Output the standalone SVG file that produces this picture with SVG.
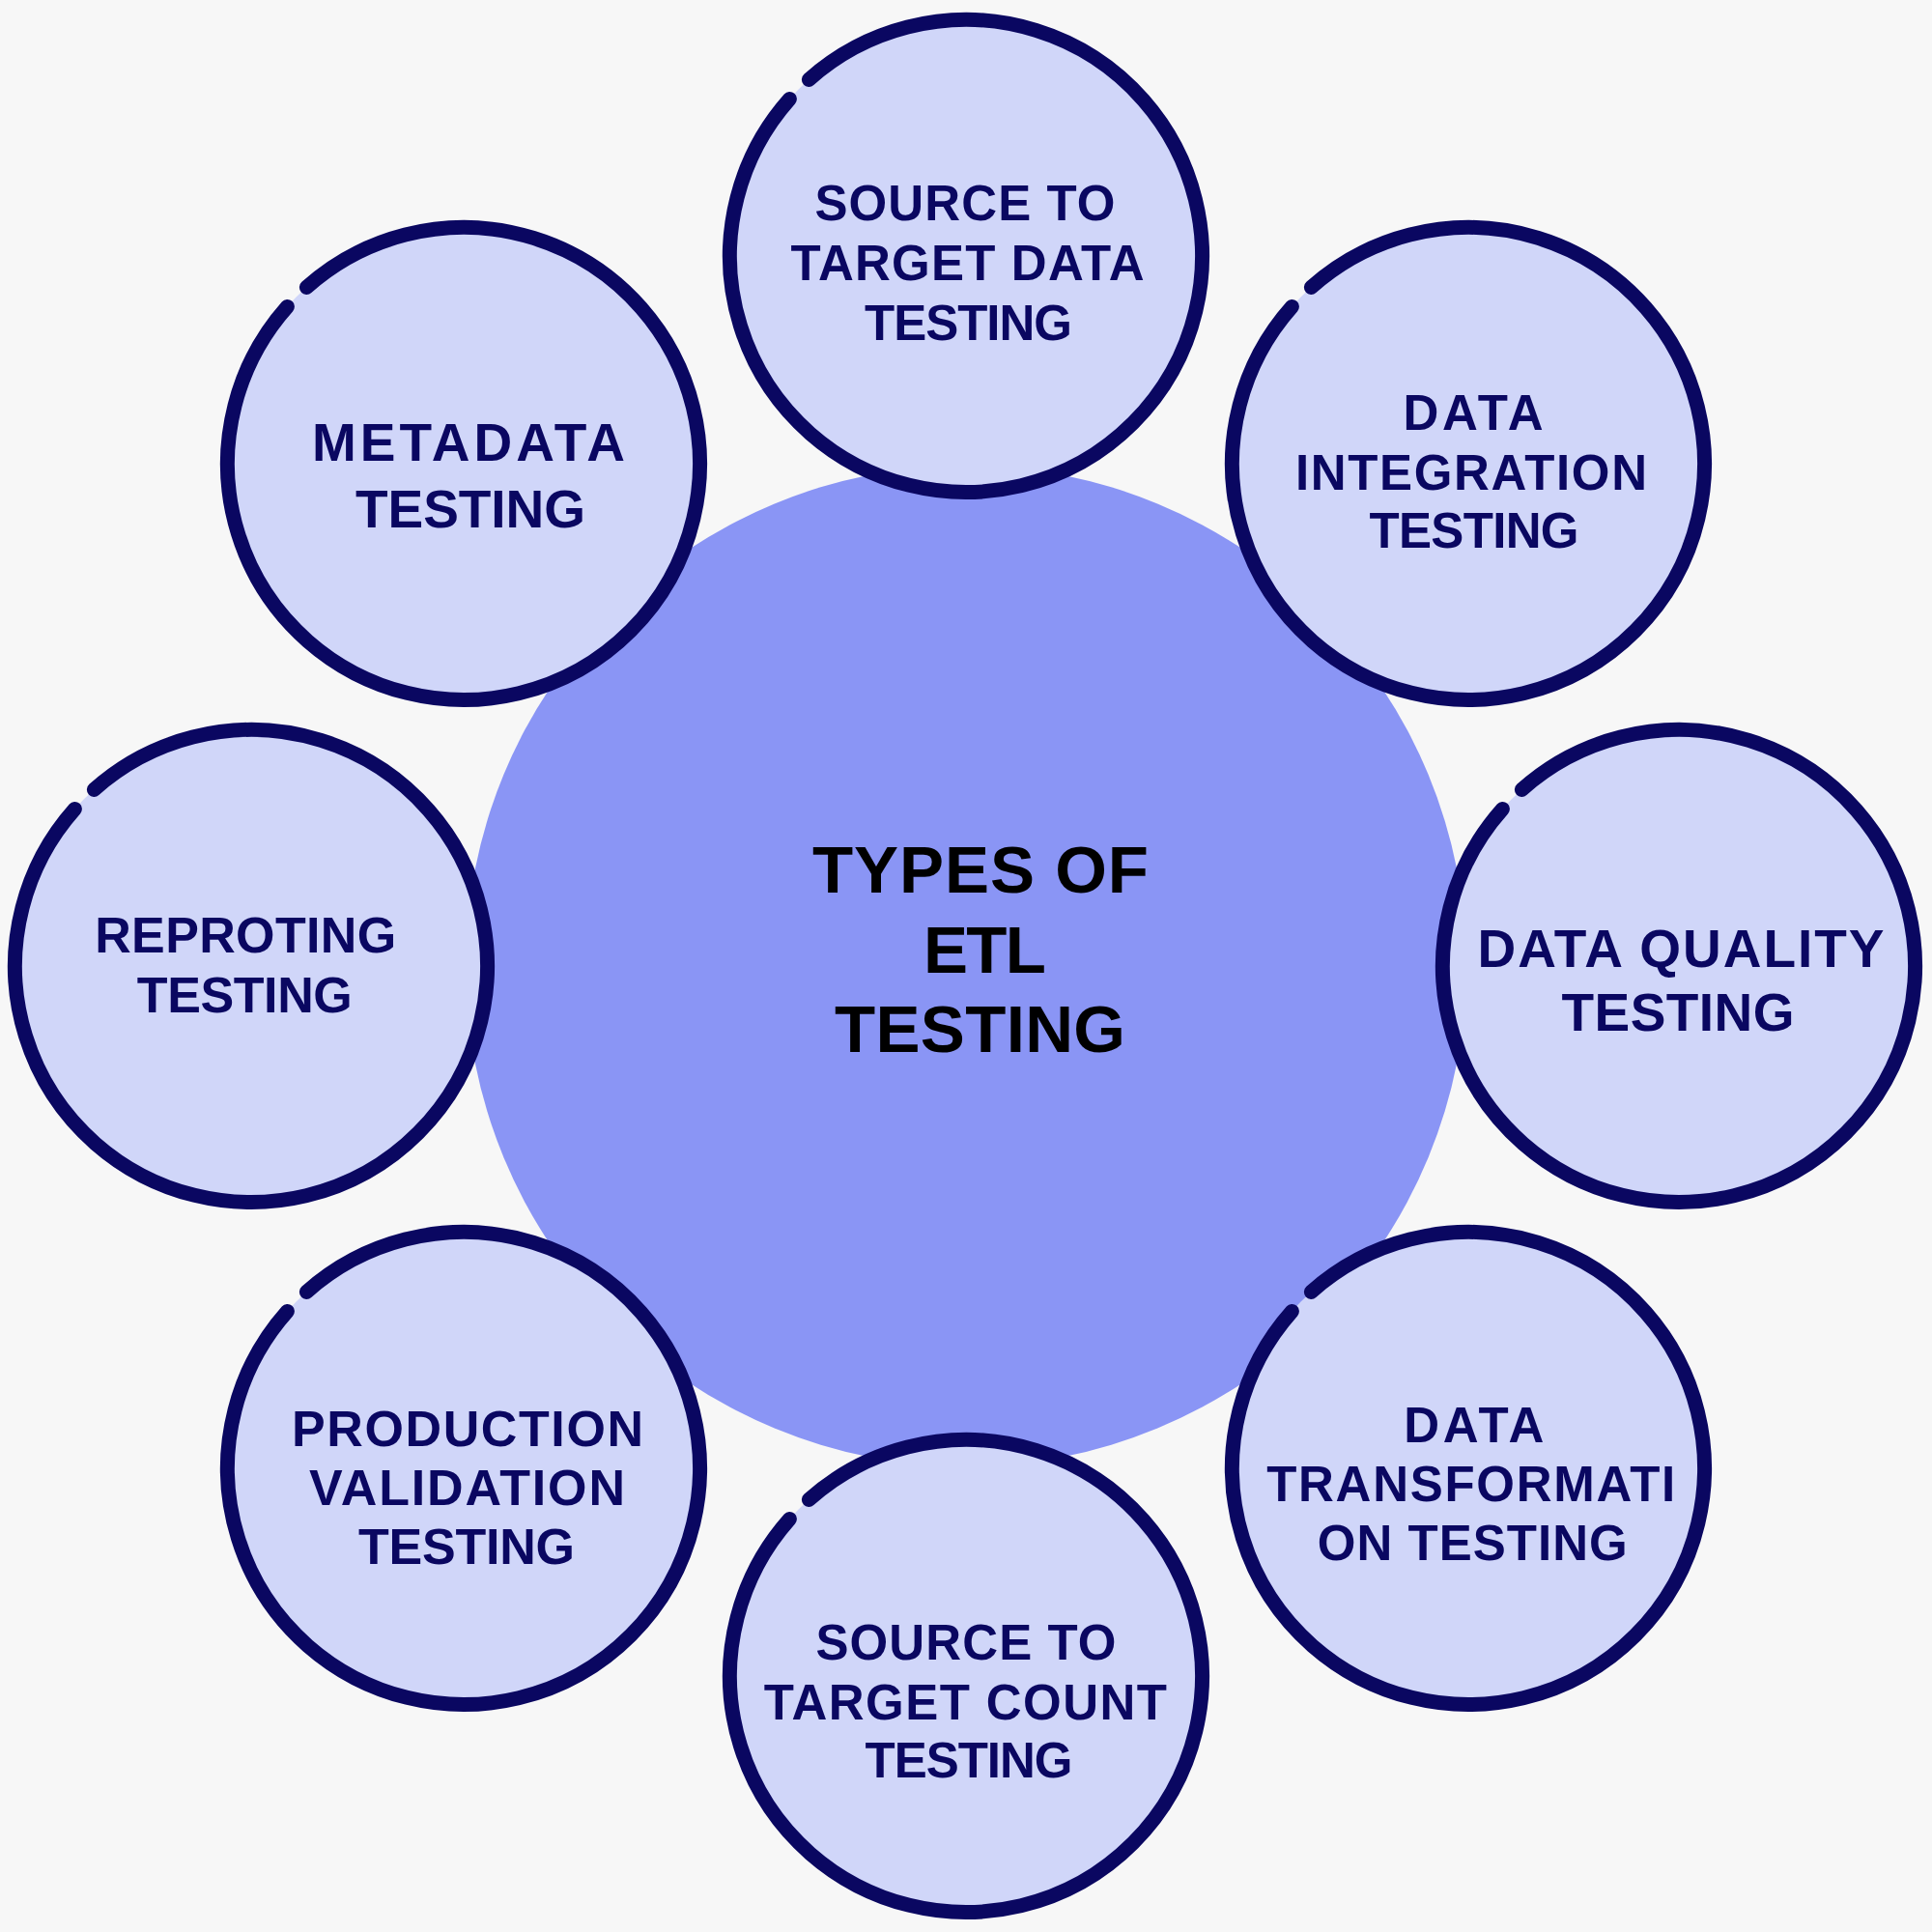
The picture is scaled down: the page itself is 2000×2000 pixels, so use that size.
<svg xmlns="http://www.w3.org/2000/svg" xmlns:xlink="http://www.w3.org/1999/xlink" width="2000" height="2000" viewBox="0 0 2000 2000">
<style>
.fill{fill:#D0D6F9;}
.ring{fill:none;stroke:#0A0761;stroke-width:15;stroke-linecap:round;}
.lbl{font-family:"Liberation Sans","Open Sans",sans-serif;font-weight:700;fill:#0A0761;text-anchor:middle;}
.ctr{font-family:"Liberation Sans","Open Sans",sans-serif;font-weight:700;fill:#000000;text-anchor:middle;font-size:69px;}
.s51{font-size:51px;}
.s53{font-size:52px;}
.s56{font-size:55px;}
</style>
<defs>
<g id="bubble">
<circle class="fill" cx="0" cy="0" r="244.5"/>
<path class="ring" d="M -162.6 -182.6 A 244.5 244.5 0 1 1 -182.6 -162.6"/>
</g>
</defs>
<rect x="0" y="0" width="2000" height="2000" fill="#F7F7F7"/>

<g id="center">
<circle cx="1000" cy="1000" r="518" fill="#8A95F5"/>
<text class="ctr"><tspan x="1015" y="924" textLength="348">TYPES OF</tspan><tspan x="1019.5" y="1007" textLength="127">ETL</tspan><tspan x="1014.5" y="1089" textLength="301">TESTING</tspan></text>
</g>

<g id="node-source-target-data">
<use xlink:href="#bubble" href="#bubble" transform="translate(1000,265)"/>
<text class="lbl s51"><tspan x="999" y="228.3" textLength="311">SOURCE TO</tspan><tspan x="1001.5" y="290" textLength="366">TARGET DATA</tspan><tspan x="1002.5" y="351.7" textLength="215">TESTING</tspan></text>
</g>

<g id="node-data-integration">
<use xlink:href="#bubble" href="#bubble" transform="translate(1520,480)"/>
<text class="lbl s51"><tspan x="1525" y="445.3" textLength="145">DATA</tspan><tspan x="1523" y="507" textLength="364">INTEGRATION</tspan><tspan x="1526" y="567" textLength="217">TESTING</tspan></text>
</g>

<g id="node-data-quality">
<use xlink:href="#bubble" href="#bubble" transform="translate(1738,1000)"/>
<text class="lbl s56"><tspan x="1740" y="1000.7" textLength="421">DATA QUALITY</tspan><tspan x="1737" y="1066.7" textLength="241">TESTING</tspan></text>
</g>

<g id="node-data-transformation">
<use xlink:href="#bubble" href="#bubble" transform="translate(1520,1520)"/>
<text class="lbl s51"><tspan x="1525.8" y="1493.3" textLength="145">DATA</tspan><tspan x="1522.7" y="1554.3" textLength="423">TRANSFORMATI</tspan><tspan x="1524.2" y="1615" textLength="321">ON TESTING</tspan></text>
</g>

<g id="node-source-target-count">
<use xlink:href="#bubble" href="#bubble" transform="translate(1000,1735)"/>
<text class="lbl s51"><tspan x="1000" y="1718" textLength="311">SOURCE TO</tspan><tspan x="999.3" y="1779.7" textLength="417">TARGET COUNT</tspan><tspan x="1003" y="1839.7" textLength="215">TESTING</tspan></text>
</g>

<g id="node-production-validation">
<use xlink:href="#bubble" href="#bubble" transform="translate(480,1520)"/>
<text class="lbl s53"><tspan x="484" y="1497.3" textLength="364">PRODUCTION</tspan><tspan x="483.5" y="1558.3" textLength="327">VALIDATION</tspan><tspan x="483" y="1619.3" textLength="224">TESTING</tspan></text>
</g>

<g id="node-reporting">
<use xlink:href="#bubble" href="#bubble" transform="translate(260,1000)"/>
<text class="lbl s53"><tspan x="254.2" y="986" textLength="312">REPROTING</tspan><tspan x="253.3" y="1048.3" textLength="223">TESTING</tspan></text>
</g>

<g id="node-metadata">
<use xlink:href="#bubble" href="#bubble" transform="translate(480,480)"/>
<text class="lbl s56"><tspan x="485" y="477.3" textLength="324">METADATA</tspan><tspan x="487" y="545.7" textLength="238">TESTING</tspan></text>
</g>
</svg>
